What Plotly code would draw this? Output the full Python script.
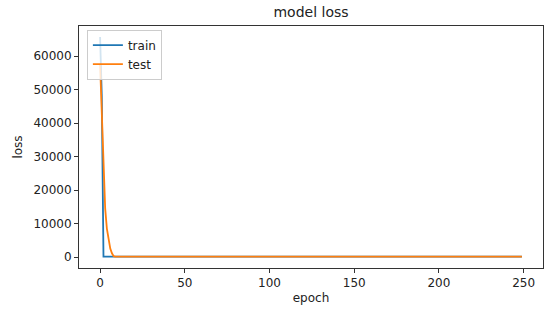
import plotly.graph_objects as go

epochs = list(range(250))
train_head = [65700, 48000, 150, 120, 110, 100]
train_tail_value = 100
test_head = [57500, 41000, 24000, 14500, 8500, 4800, 2500, 1100, 250, 120]
test_tail_value = 110

train_loss = train_head + [train_tail_value] * (len(epochs) - len(train_head))
test_loss = test_head + [test_tail_value] * (len(epochs) - len(test_head))

x_ticks = [0, 50, 100, 150, 200, 250]
y_ticks = [0, 10000, 20000, 30000, 40000, 50000, 60000]
y_tick_labels = [str(v) for v in y_ticks]

font_family = "DejaVu Sans"
axis_color = "#333333"

fig = go.Figure()
fig.add_trace(go.Scatter(x=epochs, y=train_loss, mode="lines", name="train",
                         line=dict(color="#1f77b4", width=1.8)))
fig.add_trace(go.Scatter(x=epochs, y=test_loss, mode="lines", name="test",
                         line=dict(color="#ff7f0e", width=1.8)))

ymax = max(max(train_loss), max(test_loss))
xpad = (epochs[-1] - epochs[0]) * 0.05
ypad = ymax * 0.05

fig.update_layout(
    width=550, height=312,
    margin=dict(l=79, r=7, t=26, b=44, autoexpand=False),
    paper_bgcolor="white", plot_bgcolor="white",
    font=dict(family=font_family, size=12, color="#222222"),
    title=dict(text="model loss", x=(79 + 543) / 2 / 550, xanchor="center",
               y=1 - 12 / 312, yanchor="middle", font=dict(size=14, color="#222222")),
    showlegend=True,
    legend=dict(x=0.017, y=0.985, xanchor="left", yanchor="top",
                bgcolor="rgba(255,255,255,0.8)", bordercolor="#cccccc", borderwidth=1,
                font=dict(size=12), tracegroupgap=0, itemwidth=30),
    xaxis=dict(range=[epochs[0] - xpad, epochs[-1] + xpad], tickvals=x_ticks,
               showgrid=False, zeroline=False, showline=True, linecolor=axis_color,
               linewidth=1, mirror=True, ticks="outside", ticklen=4, tickcolor=axis_color,
               automargin=False,
               title=dict(text="epoch", font=dict(size=12), standoff=4)),
    yaxis=dict(range=[-ypad, ymax + ypad], tickvals=y_ticks, ticktext=y_tick_labels,
               showgrid=False, zeroline=False, showline=True, linecolor=axis_color,
               linewidth=1, mirror=True, ticks="outside", ticklen=4, tickcolor=axis_color,
               automargin=False,
               title=dict(text="loss", font=dict(size=12), standoff=8)),
)

fig.write_html("out.html", config={"displayModeBar": False},
               post_script="document.body.style.margin='0';document.body.style.overflow='hidden';")
